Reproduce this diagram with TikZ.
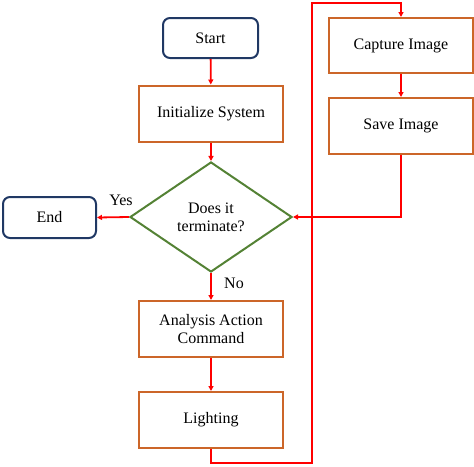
\documentclass[tikz,border=0pt]{standalone}
\usepackage{fontspec}
\setmainfont{Liberation Serif}
\usetikzlibrary{shapes.geometric,arrows.meta}
\definecolor{navy}{RGB}{32,56,100}
\definecolor{borange}{RGB}{204,102,41}
\definecolor{bgreen}{RGB}{84,130,53}
\definecolor{lred}{RGB}{255,0,0}
\tikzset{
  term/.style={draw=navy, line width=2pt, rounded corners=7pt, fill=white, align=center, font=\fontsize{16}{18}\selectfont},
  proc/.style={draw=borange, line width=2pt, fill=white, align=center, font=\fontsize{16}{18}\selectfont, minimum width=144pt, minimum height=56pt},
  decis/.style={draw=bgreen, line width=2pt, diamond, aspect=1.5, inner sep=0pt, align=center, font=\fontsize{16}{18}\selectfont, minimum width=162pt, minimum height=110pt},
  conn/.style={draw=lred, line width=1.8pt, -{Triangle[length=5pt,width=5pt]}},
  lbl/.style={font=\fontsize{16}{18}\selectfont}
}
\begin{document}
\begin{tikzpicture}[x=1pt,y=-1pt]
\useasboundingbox (0,0) rectangle (474,466);
\node[term, minimum width=95pt, minimum height=40pt] (start) at (210.5,38) {Start};
\node[proc] (init) at (211,113.5) {Initialize System};
\node[decis] (dec) at (211,217) {Does it\\terminate?};
\node[term, minimum width=93pt, minimum height=41pt] (end) at (49.5,217.5) {End};
\node[proc] (aac) at (211,329) {Analysis Action\\Command};
\node[proc] (light) at (211,420) {Lighting};
\node[proc, minimum height=55pt] (cap) at (401,45.5) {Capture Image};
\node[proc] (save) at (401,126) {Save Image};
\coordinate (c1) at (312,463);
\coordinate (c2) at (312,3);
\draw[conn] (start) -- (init);
\draw[conn] (init) -- (dec);
\draw[conn] (dec.west) -- (end.east);
\draw[conn] (dec.south) -- (aac.north);
\draw[conn] (aac) -- (light);
\draw[conn] (light.south) |- (c1) -- (c2) -| (cap.north);
\draw[conn] (cap) -- (save);
\draw[conn] (save.south) |- (dec.east);
\node[lbl] (yes) at (121,200) {Yes};
\node[lbl] (no) at (234,283) {No};
\end{tikzpicture}
\end{document}
